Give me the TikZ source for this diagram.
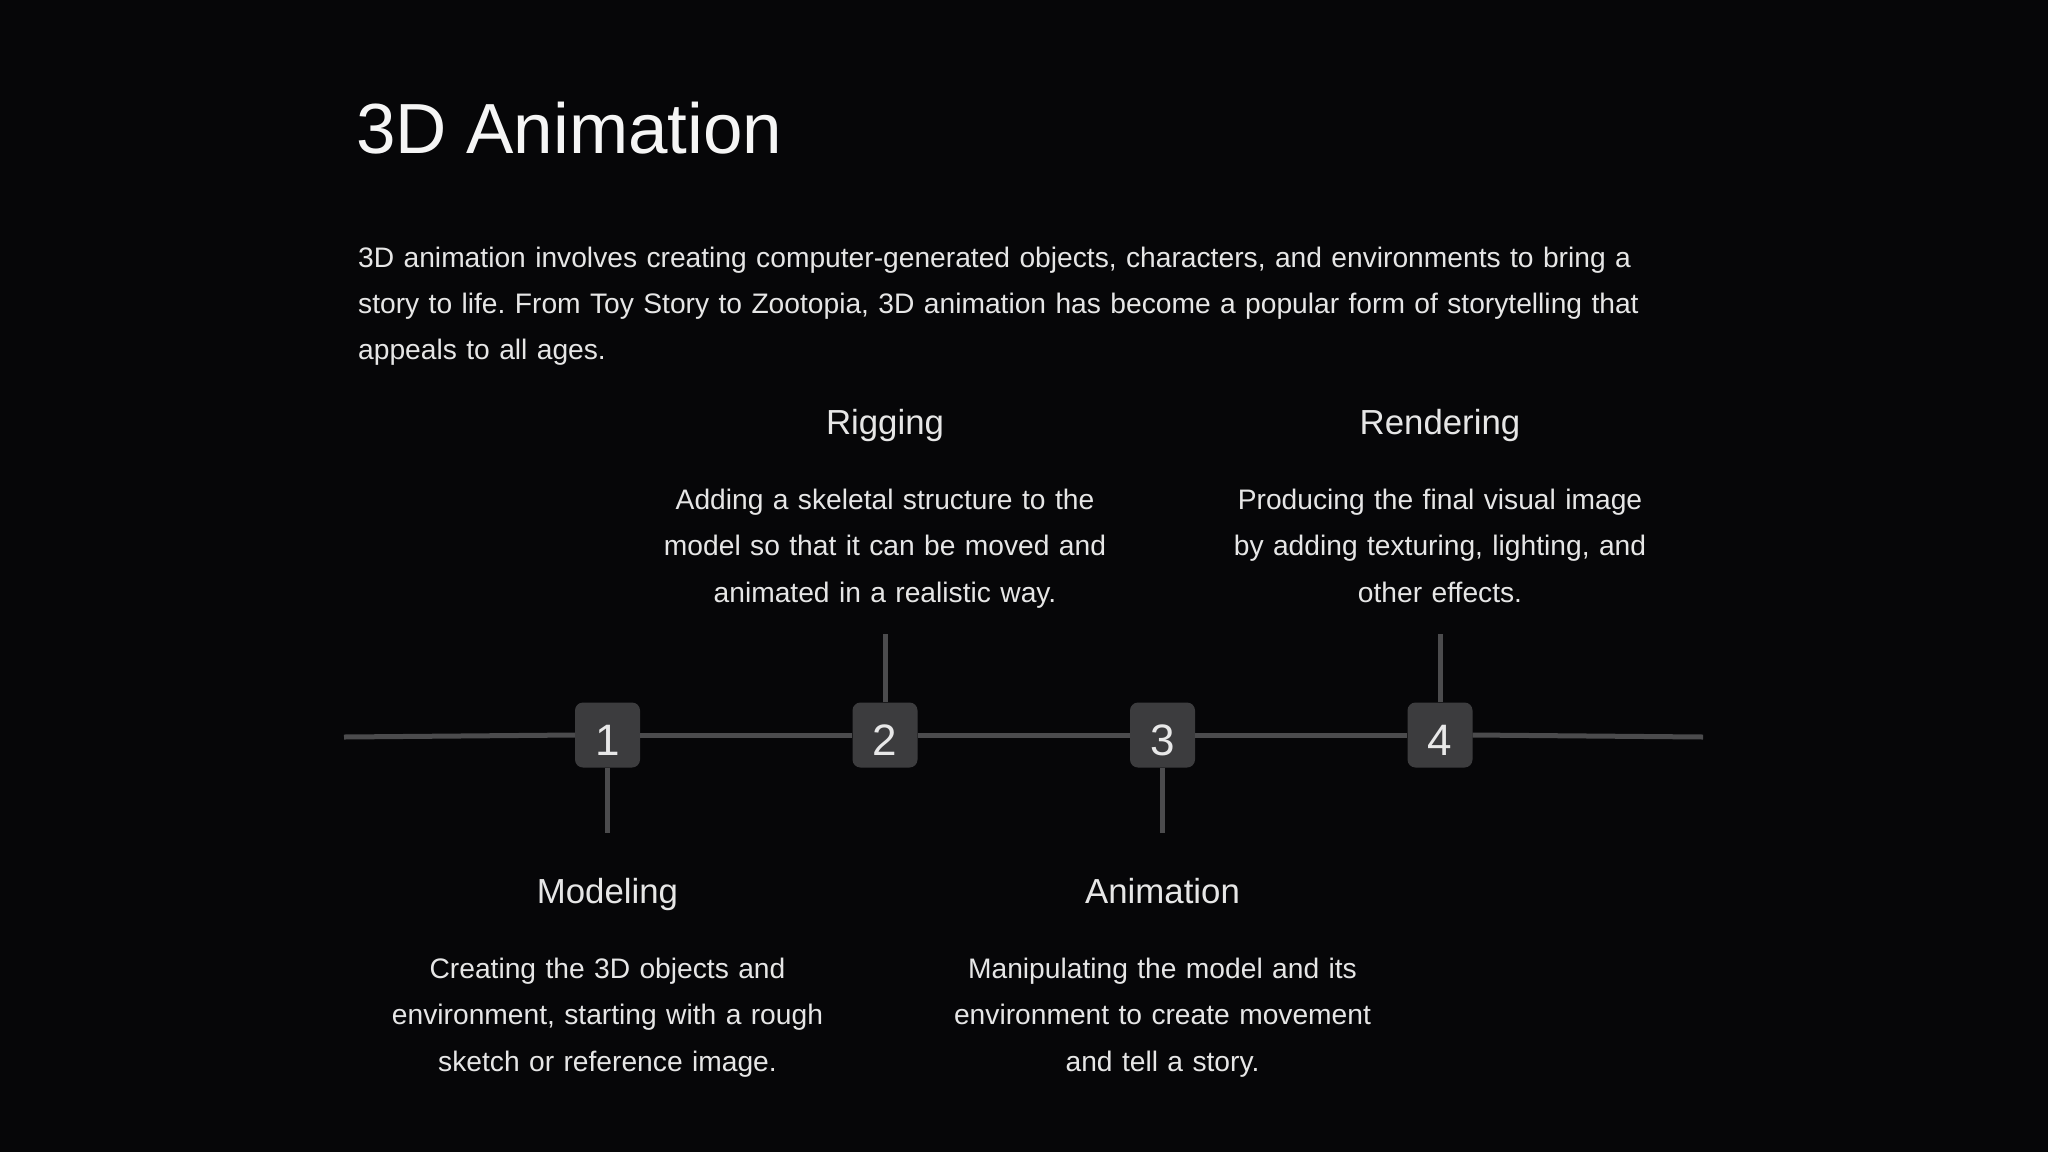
\documentclass[tikz,border=0pt]{standalone}
\usepackage{fontspec}
\setmainfont{Liberation Sans}
\frenchspacing
\definecolor{bg}{HTML}{060608}
\definecolor{linec}{HTML}{4B4B4D}
\definecolor{boxc}{HTML}{3C3C3E}
\definecolor{numc}{HTML}{E8E8E8}
\definecolor{txt}{HTML}{E6E6E6}
\definecolor{ttl}{HTML}{F5F5F5}
\begin{document}
\begin{tikzpicture}[x=1pt,y=-1pt,
  numbox/.style={draw=none,fill=boxc,rounded corners=8pt,minimum size=65pt,inner sep=0pt,
    text height=41pt,text depth=0pt,
    text=numc,font=\fontsize{44}{44}\selectfont},
  tline/.style={draw=linec,line width=5pt},
  heading/.style={anchor=base,inner sep=0pt,text=txt,font=\fontsize{34.8}{34.8}\selectfont},
  desc/.style={anchor=base,inner sep=0pt,text=txt,align=center,text width=500pt,
    font=\fontsize{28.2}{46.5}\selectfont}]
\useasboundingbox (0,0) rectangle (2048,1152);
\fill[bg] (0,0) rectangle (2048,1152);

\node[anchor=base west,inner sep=0pt,text=ttl,font=\fontsize{71}{71}\selectfont] (title) at (356,153) {3D Animation};
\node[anchor=base west,inner sep=0pt,text=txt,align=left,text width=1500pt,
  font=\fontsize{28.2}{46}\selectfont] (intro) at (358,267)
  {3D animation involves creating computer-generated objects, characters, and environments to bring a\\
   story to life. From Toy Story to Zootopia, 3D animation has become a popular form of storytelling that\\
   appeals to all ages.};

\coordinate (L) at (344,737);
\coordinate (R) at (1703,737);
\node[numbox] (b1) at (607.5,735) {1};
\node[numbox] (b2) at (885,735) {2};
\node[numbox] (b3) at (1162.5,735) {3};
\node[numbox] (b4) at (1440,735) {4};
\coordinate (s1) at (607.5,833);
\coordinate (s2) at (885,634);
\coordinate (s3) at (1162.5,833);
\coordinate (s4) at (1440,634);

\draw[tline] (L) -- (b1.west);
\draw[tline] (b1.east) -- (b2.west);
\draw[tline] (b2.east) -- (b3.west);
\draw[tline] (b3.east) -- (b4.west);
\draw[tline] (b4.east) -- (R);
\draw[tline] (b1.south) -- (s1);
\draw[tline] (b2.north) -- (s2);
\draw[tline] (b3.south) -- (s3);
\draw[tline] (b4.north) -- (s4);

\node[heading] (h2) at (885,434) {Rigging};
\node[desc] (d2) at (885,509) {Adding a skeletal structure to the\\model so that it can be moved and\\animated in a realistic way.};
\node[heading] (h4) at (1440,434) {Rendering};
\node[desc] (d4) at (1440,509) {Producing the final visual image\\by adding texturing, lighting, and\\other effects.};
\node[heading] (h1) at (607.5,903) {Modeling};
\node[desc] (d1) at (607.5,978) {Creating the 3D objects and\\environment, starting with a rough\\sketch or reference image.};
\node[heading] (h3) at (1162.5,903) {Animation};
\node[desc] (d3) at (1162.5,978) {Manipulating the model and its\\environment to create movement\\and tell a story.};
\end{tikzpicture}
\end{document}
